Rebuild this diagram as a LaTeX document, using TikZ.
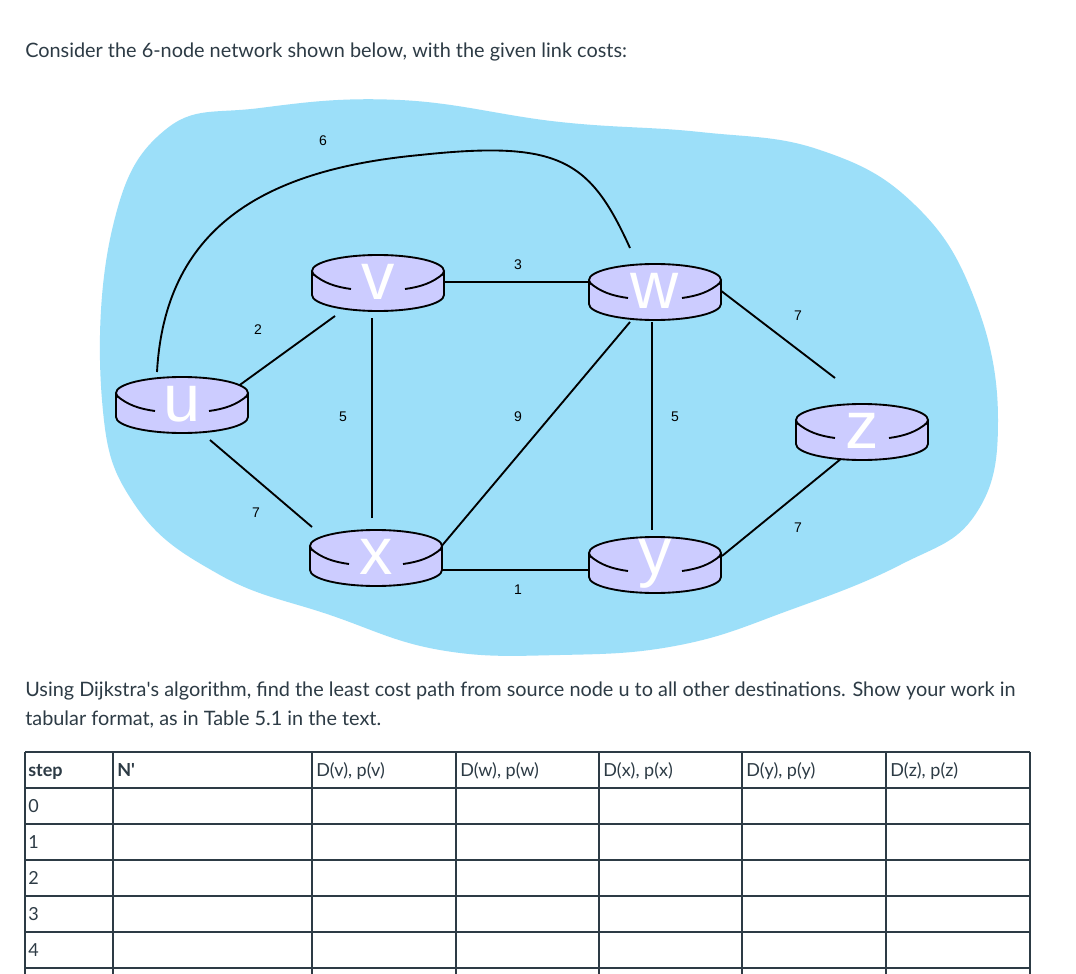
\documentclass[tikz,border=0pt]{standalone}
\usepackage{fontspec}
\setmainfont{Lato}
\newfontfamily\lab{Liberation Sans}
\definecolor{blob}{HTML}{9CDFF9}
\definecolor{rt}{HTML}{CCCCFF}
\definecolor{tl}{HTML}{2D3B45}
\begin{document}
\begin{tikzpicture}[x=0.75pt,y=-0.75pt,
  txt/.style={anchor=base west,inner sep=0,font=\fontsize{13.5}{16}\selectfont,text=tl},
  big/.style={anchor=base west,inner sep=0,font=\fontsize{14.9}{17}\selectfont,text=tl},
  hd/.style={txt,font=\fontsize{13.5}{16}\selectfont\bfseries},
  cost/.style={font=\lab\fontsize{10.5}{12}\selectfont,inner sep=0},
  link/.style={line width=1.4pt},
  router/.pic={
    \fill[rt] (-66,-12) rectangle (66,12);
    \fill[rt] (0,12) ellipse[x radius=66,y radius=16];
    \fill[rt] (0,-12) ellipse[x radius=66,y radius=16];
    \draw[line width=1.4pt] (-66,-12) -- (-66,12) arc[start angle=180,end angle=0,x radius=66,y radius=16] -- (66,-12);
    \draw[line width=1.4pt] (0,-12) ellipse[x radius=66,y radius=16];
    \fill[rt] (-64,-8) rectangle (64,6);
    \draw[line width=1.4pt] (-66,-10) .. controls (-55,0) and (-42,4) .. (-27,6);
    \draw[line width=1.4pt] (27,6) .. controls (42,4) and (55,0) .. (66,-10);
    \node[text=white,font=\lab\fontsize{50}{52}\selectfont,inner sep=0] (-lbl) at (0,-1) {\tikzpictext};
  }]
\useasboundingbox (0,0) rectangle (1076,974);
\fill[white] (0,0) rectangle (1076,974);
\node[big] (t1) at (25,58) {Consider the 6-node network shown below, with the given link costs:};
\fill[blob] plot[smooth cycle,tension=0.7] coordinates {(165,130) (260,108) (400,100) (560,122) (700,132) (820,150) (915,205) (975,300) (998,420) (975,515) (900,565) (790,610) (680,645) (560,655) (440,650) (330,615) (220,575) (135,505) (102,400) (112,230)};
\coordinate (u) at (182,405);
\coordinate (v) at (378,283);
\coordinate (w) at (655,292);
\coordinate (z) at (862,432);
\coordinate (x) at (376,558);
\coordinate (y) at (655,565);
\draw[link] (157,372) .. controls (165,230) and (260,170) .. (420,155) .. controls (560,140) and (590,160) .. (630,248);
\draw[link] (237,387) -- (335,316);
\draw[link] (210,440) -- (312,527);
\draw[link] (444,282) -- (590,282);
\draw[link] (372,318) -- (372,518);
\draw[link] (630,322) -- (440,548);
\draw[link] (652,322) -- (652,530);
\draw[link] (720,290) -- (835,378);
\draw[link] (440,570) -- (592,570);
\draw[link] (722,556) -- (842,458);
\pic[pic text=u] (nu) at (u) {router};
\pic[pic text=v] (nv) at (v) {router};
\pic[pic text=w] (nw) at (w) {router};
\pic[pic text=z] (nz) at (z) {router};
\pic[pic text=x] (nx) at (x) {router};
\pic[pic text=y] (ny) at (y) {router};
\node[cost] (c1) at (323,141) {6};
\node[cost] (c2) at (518,265) {3};
\node[cost] (c3) at (258,330) {2};
\node[cost] (c4) at (798,316) {7};
\node[cost] (c5) at (343,417) {5};
\node[cost] (c6) at (518,417) {9};
\node[cost] (c7) at (675,417) {5};
\node[cost] (c8) at (256,513) {7};
\node[cost] (c9) at (798,528) {7};
\node[cost] (c10) at (518,590) {1};
\node[big] (t2) at (25,696) {Using Dijkstra\textquotesingle s algorithm, find the least cost path from source node u to all other destinations. Show your work in};
\node[big] (t3) at (25,725) {tabular format, as in Table 5.1 in the text.};
\foreach \yy in {752,788,824,860,896,932,968} \draw[tl,line width=0.9pt] (25,\yy) -- (1030,\yy);
\foreach \xx in {25,113,312,456,599,742,886,1030} \draw[tl,line width=0.9pt] (\xx,752) -- (\xx,974);
\node[hd] (h1) at (28,776) {step};
\node[hd] (h2) at (117,776) {N\textquotesingle};
\node[txt] (h3) at (316,776) {D(v), p(v)};
\node[txt] (h4) at (460,776) {D(w), p(w)};
\node[txt] (h5) at (603,776) {D(x), p(x)};
\node[txt] (h6) at (746,776) {D(y), p(y)};
\node[txt] (h7) at (890,776) {D(z), p(z)};
\foreach \i/\yy in {0/812,1/848,2/884,3/920,4/956} \node[txt] (s\i) at (28,\yy) {\i};
\end{tikzpicture}
\end{document}
